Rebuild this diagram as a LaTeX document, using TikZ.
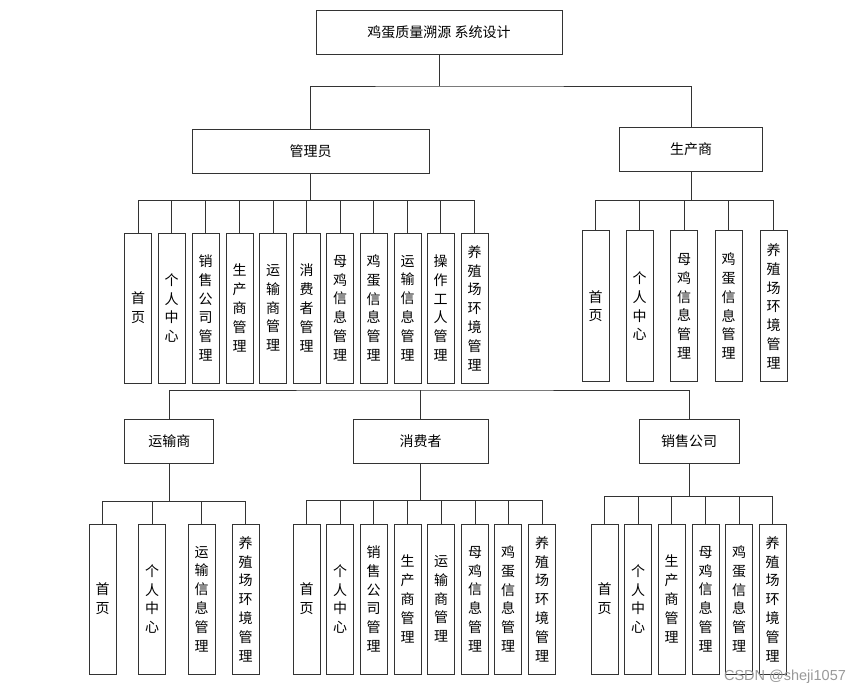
\documentclass[tikz,border=0pt]{standalone}
\usepackage{fontspec}
\setmainfont{Noto Sans CJK SC}
\newfontfamily\markfont{Liberation Sans}

\begin{document}
\begin{tikzpicture}[x=1pt,y=-1pt,
  link/.style={draw=black!80,line width=0.9pt},
  hbox/.style={rectangle,draw=black!80,line width=0.9pt,minimum height=44,font=\fontsize{14}{18.8}\selectfont},
  vbox/.style={rectangle,draw=black!80,line width=0.9pt,minimum width=27,minimum height=150,align=center,inner sep=0pt,font=\fontsize{14}{18.8}\selectfont}]
\useasboundingbox (0,0) rectangle (860,694);

% top levels
\node [hbox,minimum width=246] (sys) at (439,32) {鸡蛋质量溯源 系统设计};
\node [hbox,minimum width=237] (admin) at (310.5,151) {管理员};
\node [hbox,minimum width=143] (prod) at (691,149) {生产商};
\node [hbox,minimum width=89] (trans) at (169.3,441) {运输商};
\node [hbox,minimum width=135] (cons) at (420.5,441) {消费者};
\node [hbox,minimum width=100] (sale) at (689,441) {销售公司};

\coordinate (b0) at (439,86);
\coordinate (b1) at (310.5,200);
\coordinate (b2) at (691,200);
\coordinate (b3) at (420.5,390);
\coordinate (b4) at (169.3,501.5);
\coordinate (b5) at (420.5,500);
\coordinate (b6) at (689,496);

% 管理员
\node [vbox] (a1) at (138,308) {首\\页};
\node [vbox] (a2) at (171.5,308) {个\\人\\中\\心};
\node [vbox] (a3) at (205.5,308) {销\\售\\公\\司\\管\\理};
\node [vbox] (a4) at (239.5,308) {生\\产\\商\\管\\理};
\node [vbox] (a5) at (273,308) {运\\输\\商\\管\\理};
\node [vbox] (a6) at (306.5,308) {消\\费\\者\\管\\理};
\node [vbox] (a7) at (340,308) {母\\鸡\\信\\息\\管\\理};
\node [vbox] (a8) at (373.5,308) {鸡\\蛋\\信\\息\\管\\理};
\node [vbox] (a9) at (407.5,308) {运\\输\\信\\息\\管\\理};
\node [vbox] (a10) at (440.5,308) {操\\作\\工\\人\\管\\理};
\node [vbox] (a11) at (474.5,308) {养\\殖\\场\\环\\境\\管\\理};

% 生产商
\node [vbox,minimum height=151] (p1) at (595.5,306.2) {首\\页};
\node [vbox,minimum height=151] (p2) at (639.5,306.2) {个\\人\\中\\心};
\node [vbox,minimum height=151] (p3) at (684,306.2) {母\\鸡\\信\\息\\管\\理};
\node [vbox,minimum height=151] (p4) at (728.5,306.2) {鸡\\蛋\\信\\息\\管\\理};
\node [vbox,minimum height=151] (p5) at (773.5,306.2) {养\\殖\\场\\环\\境\\管\\理};

% 运输商
\node [vbox] (t1) at (102.5,599) {首\\页};
\node [vbox] (t2) at (152,599) {个\\人\\中\\心};
\node [vbox] (t3) at (201.5,599) {运\\输\\信\\息\\管\\理};
\node [vbox] (t4) at (245.5,599) {养\\殖\\场\\环\\境\\管\\理};

% 消费者
\node [vbox] (c1) at (306.5,599) {首\\页};
\node [vbox] (c2) at (340,599) {个\\人\\中\\心};
\node [vbox] (c3) at (373.5,599) {销\\售\\公\\司\\管\\理};
\node [vbox] (c4) at (407.5,599) {生\\产\\商\\管\\理};
\node [vbox] (c5) at (441,599) {运\\输\\商\\管\\理};
\node [vbox] (c6) at (475,599) {母\\鸡\\信\\息\\管\\理};
\node [vbox] (c7) at (508,599) {鸡\\蛋\\信\\息\\管\\理};
\node [vbox] (c8) at (542,599) {养\\殖\\场\\环\\境\\管\\理};

% 销售公司
\node [vbox] (s1) at (604.5,599) {首\\页};
\node [vbox] (s2) at (638,599) {个\\人\\中\\心};
\node [vbox] (s3) at (671.5,599) {生\\产\\商\\管\\理};
\node [vbox] (s4) at (705.5,599) {母\\鸡\\信\\息\\管\\理};
\node [vbox] (s5) at (739,599) {鸡\\蛋\\信\\息\\管\\理};
\node [vbox] (s6) at (772.5,599) {养\\殖\\场\\环\\境\\管\\理};

% connectors
\draw [link] (sys) -- (b0);
\draw [link] (admin.north) |- (b0) -| (prod.north);
\draw [link] (admin) -- (b1);
\draw [link] (b1) -| (a1.north) (b1) -| (a2.north) (b1) -| (a3.north) (b1) -| (a4.north)
  (b1) -| (a5.north) (b1) -| (a6.north) (b1) -| (a7.north) (b1) -| (a8.north)
  (b1) -| (a9.north) (b1) -| (a10.north) (b1) -| (a11.north);
\draw [link] (prod) -- (b2);
\draw [link] (b2) -| (p1.north) (b2) -| (p2.north) (b2) -| (p3.north) (b2) -| (p4.north) (b2) -| (p5.north);
\draw [link] (trans.north) |- (b3) -| (sale.north);
\draw [link] (cons) -- (b3);
\draw [link] (trans) -- (b4);
\draw [link] (b4) -| (t1.north) (b4) -| (t2.north) (b4) -| (t3.north) (b4) -| (t4.north);
\draw [link] (cons) -- (b5);
\draw [link] (b5) -| (c1.north) (b5) -| (c2.north) (b5) -| (c3.north) (b5) -| (c4.north)
  (b5) -| (c5.north) (b5) -| (c6.north) (b5) -| (c7.north) (b5) -| (c8.north);
\draw [link] (sale) -- (b6);
\draw [link] (b6) -| (s1.north) (b6) -| (s2.north) (b6) -| (s3.north) (b6) -| (s4.north)
  (b6) -| (s5.north) (b6) -| (s6.north);

\node [text=black!40,font=\markfont\fontsize{14.5}{16}\selectfont] (mark) at (785,677) {CSDN @sheji1057};
\end{tikzpicture}
\end{document}
